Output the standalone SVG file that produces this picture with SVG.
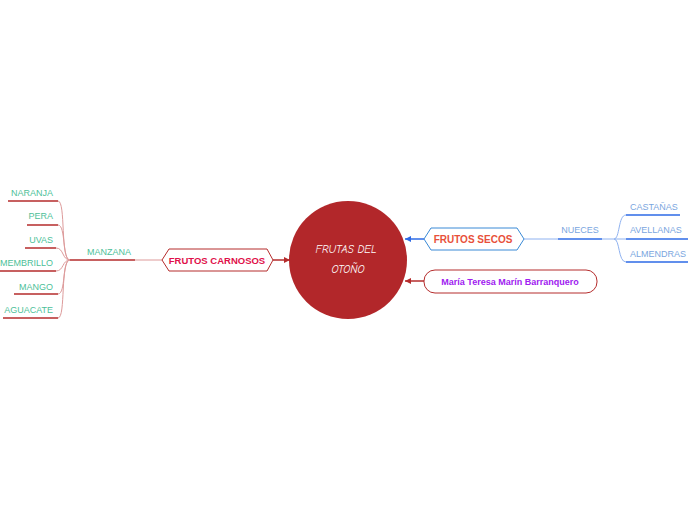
<svg xmlns="http://www.w3.org/2000/svg" width="697" height="520" viewBox="0 0 697 520">
<style>
.t{font-family:"Liberation Sans",Arial,sans-serif;font-size:9px;fill:#4dbf99}
.b{font-family:"Liberation Sans",Arial,sans-serif;font-size:9px;fill:#7aa6e0}
.rl{stroke:#b52c2c;stroke-width:1.5;fill:none}
.rc{stroke:#dd9a9a;stroke-width:1;fill:none}
.bl{stroke:#2e6be6;stroke-width:1.5;fill:none}
.bc{stroke:#8fb2f0;stroke-width:1;fill:none}
</style>
<rect width="697" height="520" fill="#fff"/>
<g id="connectors">
<path class="rl" d="M273 260 H290"/>
<path class="rc" d="M135 260 H162"/>
<path class="rl" d="M70 260 H135"/>
<path class="rc" d="M70 260 C60 260 66 201 58 201"/>
<path class="rc" d="M70 260 C62 260 66 225 58 225"/>
<path class="rc" d="M70 260 C62 260 64 248 56 248"/>
<path class="rc" d="M70 260 C62 260 64 271 56 271"/>
<path class="rc" d="M70 260 C62 260 66 294 58 294"/>
<path class="rc" d="M70 260 C60 260 66 318 58 318"/>
<path class="rl" d="M8 201 H58 M27 225 H58 M25 248 H56 M0 271 H56 M14 294 H58 M3 318 H58"/>
<path class="bl" d="M405 239 H424"/>
<path class="bc" d="M524 239 H558"/>
<path class="bl" d="M558 239 H602"/>
<path class="bc" d="M602 239 H614 C620 239 618 215 626 215 M614 239 H626 M614 239 C620 239 618 262 626 262"/>
<path class="bl" d="M626 215 H680 M626 239 H688 M626 262 H688"/>
<path class="rl" d="M405 281 H424"/>
<polygon points="405,239 411,236 411,242" fill="#2e6be6"/>
<polygon points="405,281 411,278 411,284" fill="#b52c2c"/>
<polygon points="290,260 284,257 284,263" fill="#b52c2c"/>
</g>
<g id="center">
<circle cx="348" cy="260" r="59" fill="#b2272a"/>
<text x="346" y="253" text-anchor="middle" font-family="'Comic Neue','DejaVu Sans',sans-serif" font-style="italic" font-size="11" fill="#fff">FRUTAS DEL</text>
<text x="348" y="273" text-anchor="middle" font-family="'Comic Neue','DejaVu Sans',sans-serif" font-style="italic" font-size="11" fill="#fff">OTOÑO</text>
</g>
<g id="carnosos">
<polygon points="162,260 169,249 267,249 273,260 267,271 169,271" fill="#fff" stroke="#b52c2c"/>
<text x="217" y="263.5" text-anchor="middle" font-family="'Liberation Sans',Arial,sans-serif" font-weight="bold" font-size="9.5" fill="#e0104a">FRUTOS CARNOSOS</text>
</g>
<g id="secos">
<polygon points="424,239 431,228 517,228 524,239 517,250 431,250" fill="#fff" stroke="#3a8ad6"/>
<text x="473" y="242.5" text-anchor="middle" font-family="'Liberation Sans',Arial,sans-serif" font-weight="bold" font-size="10" fill="#e8503a">FRUTOS SECOS</text>
</g>
<g id="autor">
<rect x="424" y="270" width="173" height="23" rx="11" fill="#fff" stroke="#b52c2c"/>
<text x="510" y="284.5" text-anchor="middle" font-family="'Liberation Sans',Arial,sans-serif" font-weight="bold" font-size="9" fill="#a020f0">María Teresa Marín Barranquero</text>
</g>
<g id="manzana"><text class="t" x="109" y="255" text-anchor="middle">MANZANA</text></g>
<g id="naranja"><text class="t" x="53" y="196" text-anchor="end">NARANJA</text></g>
<g id="pera"><text class="t" x="53" y="219" text-anchor="end">PERA</text></g>
<g id="uvas"><text class="t" x="53" y="243" text-anchor="end">UVAS</text></g>
<g id="membrillo"><text class="t" x="53" y="266" text-anchor="end">MEMBRILLO</text></g>
<g id="mango"><text class="t" x="53" y="290" text-anchor="end">MANGO</text></g>
<g id="aguacate"><text class="t" x="53" y="313" text-anchor="end">AGUACATE</text></g>
<g id="nueces"><text class="b" x="580" y="233" text-anchor="middle">NUECES</text></g>
<g id="castanas"><text class="b" x="630" y="210">CASTAÑAS</text></g>
<g id="avellanas"><text class="b" x="630" y="233">AVELLANAS</text></g>
<g id="almendras"><text class="b" x="630" y="257">ALMENDRAS</text></g>
</svg>
